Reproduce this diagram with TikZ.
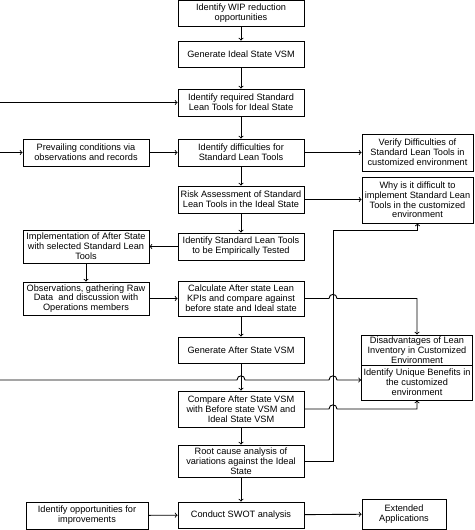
\documentclass[tikz,border=0pt]{standalone}
\usepackage{fontspec}
\setmainfont{Liberation Sans}
\usetikzlibrary{positioning}
\usetikzlibrary{arrows}
\tikzset{
every node/.style={ % Sets the text of every box
font=\fontsize{9.2}{9.8}\selectfont},
box/.style={ % Plain rectangle for each step
draw,
line width=0.9pt,
align=center,
inner sep=1pt,
minimum width=126pt},
sidebox/.style={ % Narrower boxes on the right
box,
minimum width=111pt},
every edge/.style={ % Sets the properties for each connector
draw,
->,
line width=0.9pt}}

\begin{document}
\begin{tikzpicture}[x=1pt, y=-1pt, line width=0.9pt]
\useasboundingbox (0,0) rectangle (474,530);
% middle column
\node[box, minimum height=26pt] (A) at (241,13) {Identify WIP reduction\\opportunities};
\node[box, minimum height=26pt] (B) at (241,54) {Generate Ideal State VSM};
\node[box, minimum height=27pt] (C) at (241,102.5) {Identify required Standard\\Lean Tools for Ideal State};
\node[box, minimum height=27pt] (D) at (241,152.5) {Identify difficulties for\\Standard Lean Tools};
\node[box, minimum height=27pt] (G) at (241,199.5) {Risk Assessment of Standard\\Lean Tools in the Ideal State};
\node[box, minimum height=27pt] (I) at (241,246.5) {Identify Standard Lean Tools\\to be Empirically Tested};
\node[box, minimum height=35pt] (L) at (241,298.5) {Calculate After state Lean\\KPIs and compare against\\before state and Ideal state};
\node[box, minimum height=26pt] (M) at (241,350) {Generate After State VSM};
\node[box, minimum height=36pt] (P) at (241,409) {Compare After State VSM\\with Before state VSM and\\Ideal State VSM};
\node[box, minimum height=32pt] (Q) at (241,461) {Root cause analysis of\\variations against the Ideal\\State};
\node[box, minimum height=26pt] (R) at (241,515) {Conduct SWOT analysis};
% left column
\node[box, minimum height=27pt] (E) at (86,152.5) {Prevailing conditions via\\observations and records};
\node[box, minimum height=33pt] (J) at (86,246.5) {Implementation of After State\\with selected Standard Lean\\Tools};
\node[box, minimum height=33pt] (K) at (86,298.5) {Observations, gathering Raw\\Data \ and discussion with\\Operations members};
\node[box, minimum height=27pt, minimum width=122pt] (S) at (87,515.5) {Identify opportunities for\\improvements};
% right column
\node[sidebox, minimum height=37pt] (F) at (417.5,152.5) {Verify Difficulties of\\Standard Lean Tools in\\customized environment};
\node[sidebox, minimum height=46pt] (H) at (417.5,200) {Why is it difficult to\\implement Standard Lean\\Tools in the customized\\environment};
\node[sidebox, minimum height=30pt, inner sep=0pt] (N) at (417,350) {Disadvantages of Lean\\Inventory in Customized\\Environment};
\node[sidebox, minimum height=35pt, inner sep=0pt] (O) at (417,382.5) {Identify Unique Benefits in\\the customized\\environment};
\node[box, minimum height=30pt, minimum width=84pt] (T) at (404,514) {Extended\\Applications};
% loose ends at the left border
\coordinate (in1) at (0,102.5);
\coordinate (in2) at (0,152.5);
\coordinate (in3) at (0,380);
% connectors
\draw (A) edge (B);
\draw (B) edge (C);
\draw (C) edge (D);
\draw (D) edge (G);
\draw (G) edge (I);
\draw (L) edge (M);
\draw (M) edge (P);
\draw (P) edge (Q);
\draw (Q) edge (R);
\draw (in1) edge (C);
\draw (in2) edge (E);
\draw (E) edge (D);
\draw (D) edge (F);
\draw (G) edge (G -| H.west);
\draw (I) edge (J);
\draw (J) edge (K);
\draw (K) edge (L);
\draw (S) edge (R);
\draw (R) edge (T);
% lines that hop over the long vertical line
\draw[->] (Q.east) -| (333,230) -| (H.south);
\draw[->] (L.east) -- (329,298.5) .. controls (329,293) and (337,293) .. (337,298.5) -- (417,298.5) -- (N.north);
\draw[->] (in3) -- (237,380) .. controls (237,374.5) and (245,374.5) .. (245,380) -- (329,380) .. controls (329,374.5) and (337,374.5) .. (337,380) -- (O.west |- in3);
\draw[->] (P.east) -- (329,409) .. controls (329,403.5) and (337,403.5) .. (337,409) -- (417,409) -- (O.south);
\end{tikzpicture}
\end{document}
